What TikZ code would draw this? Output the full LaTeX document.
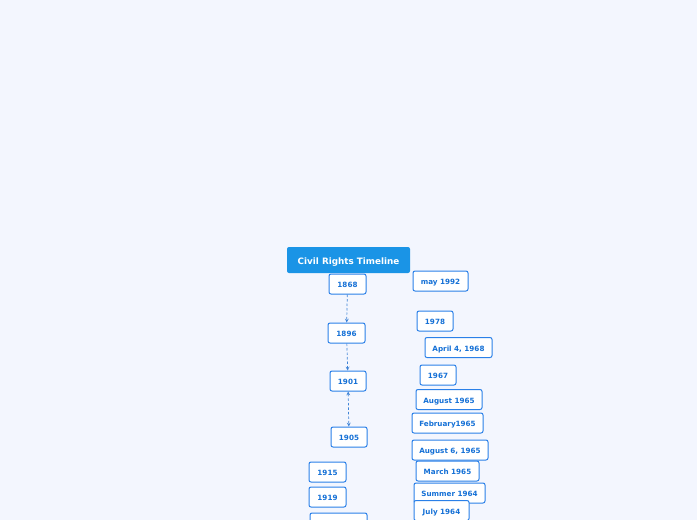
\documentclass[tikz,border=0pt]{standalone}
\usepackage{fontspec}
\setmainfont{DejaVu Sans}
\usepackage{tikz}
\usetikzlibrary{arrows}
\definecolor{bgblue}{HTML}{F3F6FE}
\definecolor{titleblue}{HTML}{1A94E6}
\definecolor{lineblue}{HTML}{2A80E8}
\definecolor{textblue}{HTML}{1470D6}
\definecolor{arrowblue}{HTML}{3D82D6}
\tikzstyle{title} = [rectangle, rounded corners=2pt, minimum width=123pt, minimum height=26pt, inner sep=0pt, text height=9.5pt, text depth=0pt, text centered, fill=titleblue, text=white, font=\bfseries\fontsize{8.8}{10}\selectfont]
\tikzstyle{datebox} = [rectangle, rounded corners=2pt, minimum height=20pt, inner sep=0pt, text height=7pt, text depth=0pt, text centered, draw=lineblue, line width=1pt, fill=white, text=textblue, font=\bfseries\fontsize{7.2}{8}\selectfont]
\tikzstyle{arrow} = [arrowblue, dashed, dash pattern=on 2.5pt off 2pt, line width=0.7pt, ->, >=stealth]

\begin{document}
\begin{tikzpicture}[x=1pt, y=1pt, node distance=48pt]
    \useasboundingbox[fill=bgblue] (0,0) rectangle (697,-520);
    \node (root) [title] at (348.5,-260) {Civil Rights Timeline};
    \node (y1868) [datebox, minimum width=37pt] at (347.5,-284) {1868};
    \node (y1896) [datebox, minimum width=37pt, below of=y1868, yshift=-1pt, xshift=-1pt] {1896};
    \node (y1901) [datebox, minimum width=36pt, below of=y1896, xshift=1.5pt] {1901};
    \node (y1905) [datebox, minimum width=36pt, below of=y1901, yshift=-8pt, xshift=1pt] {1905};
    \node (y1915) [datebox, minimum width=37pt, below of=y1905, yshift=13pt, xshift=-21.5pt] {1915};
    \node (y1919) [datebox, minimum width=37pt, below of=y1915, yshift=23pt] {1919};
    \node (y19xx) [datebox, minimum width=57pt, below of=y1919, yshift=22pt, xshift=11pt] {};

    \node (may1992) [datebox, minimum width=55pt] at (440.5,-281) {may 1992};
    \node (y1978) [datebox, minimum width=36pt, below of=may1992, yshift=8pt, xshift=-5.5pt] {1978};
    \node (apr1968) [datebox, minimum width=67pt, below of=y1978, yshift=21.5pt, xshift=23.5pt] {April 4, 1968};
    \node (y1967) [datebox, minimum width=36pt, below of=apr1968, yshift=20.5pt, xshift=-20.5pt] {1967};
    \node (aug1965) [datebox, minimum width=66pt, below of=y1967, yshift=23.5pt, xshift=11pt] {August 1965};
    \node (feb1965) [datebox, minimum width=71pt, below of=aug1965, yshift=24.5pt, xshift=-1.5pt] {February1965};
    \node (aug61965) [datebox, minimum width=76pt, below of=feb1965, yshift=21pt, xshift=2.5pt] {August 6, 1965};
    \node (mar1965) [datebox, minimum width=63pt, below of=aug61965, yshift=27pt, xshift=-2.5pt] {March 1965};
    \node (sum1964) [datebox, minimum width=71pt, below of=mar1965, yshift=26pt, xshift=2pt] {Summer 1964};
    \node (jul1964) [datebox, minimum width=55pt, below of=sum1964, yshift=30.5pt, xshift=-8pt] {July 1964};

    \draw [arrow] (y1868) -- (y1896);
    \draw [arrow] (y1896) -- (y1901);
    \draw [arrow, <->] (y1901) -- (y1905);
\end{tikzpicture}
\end{document}
